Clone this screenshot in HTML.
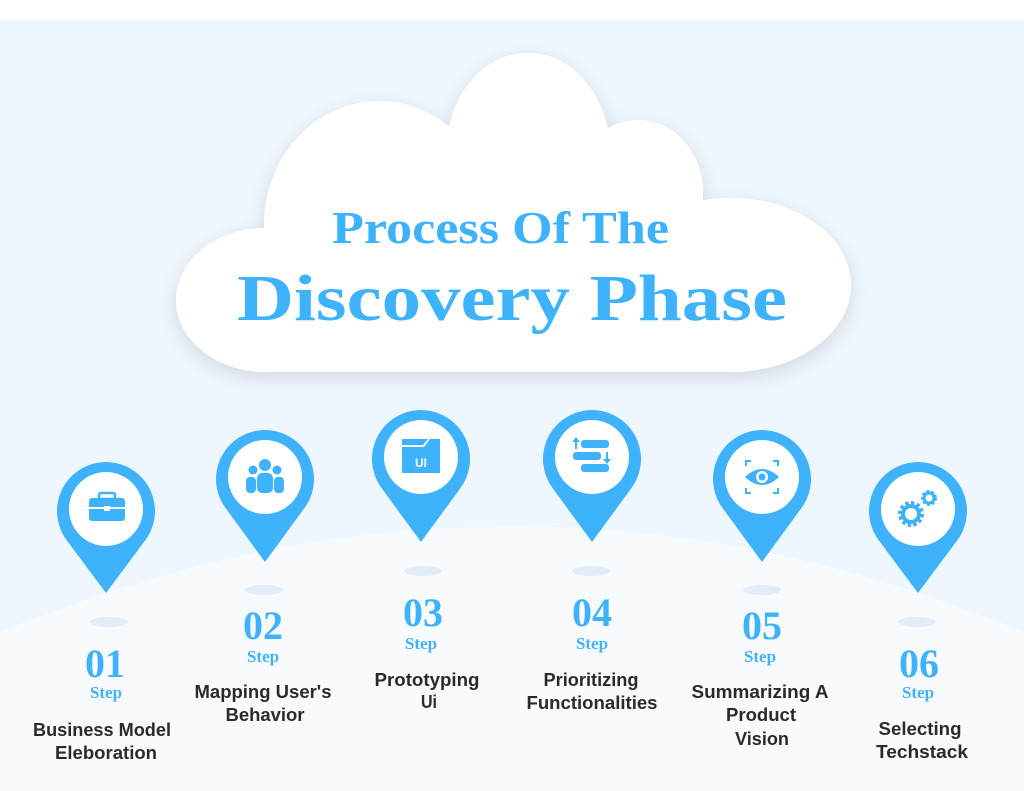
<!DOCTYPE html>
<html><head><meta charset="utf-8"><style>
html,body{margin:0;padding:0;background:#fff}
svg{display:block}
.num{font-family:"Liberation Serif",serif;font-weight:bold;fill:#3fb2fc;font-size:40px}
.step{font-family:"Liberation Serif",serif;font-weight:bold;fill:#3fb2fc;font-size:17px}
.lab{font-family:"Liberation Sans",sans-serif;font-weight:bold;fill:#2a2a2a;font-size:18px}
</style></head><body>
<svg width="1024" height="791" viewBox="0 0 1024 791" xmlns="http://www.w3.org/2000/svg">
<defs>
<filter id="sh" x="-20%" y="-20%" width="140%" height="150%"><feGaussianBlur in="SourceAlpha" stdDeviation="10"/><feOffset dy="6"/><feComponentTransfer><feFuncA type="linear" slope="0.12"/></feComponentTransfer><feMerge><feMergeNode/><feMergeNode in="SourceGraphic"/></feMerge></filter>
</defs>
<rect x="0" y="0" width="1024" height="20" fill="#fff"/>
<rect x="0" y="20" width="1024" height="771" fill="#eef6fe"/>
<path d="M0,632 Q512,420 1024,632 L1024,791 L0,791 Z" fill="#f8fbfe"/>
<!-- cloud -->
<g fill="#fff" filter="url(#sh)">
<ellipse cx="265" cy="300" rx="89" ry="72"/>
<ellipse cx="379" cy="225" rx="115" ry="124"/>
<ellipse cx="528" cy="152" rx="82" ry="99"/>
<ellipse cx="638" cy="192" rx="65" ry="72"/>
<ellipse cx="731" cy="285" rx="120" ry="87"/>
<rect x="250" y="250" width="500" height="122" rx="10"/>
<rect x="360" y="150" width="330" height="150"/>
</g>
<text x="332" y="243" textLength="337" lengthAdjust="spacingAndGlyphs" font-family="Liberation Serif,serif" font-weight="bold" font-size="46" fill="#3fb2fc">Process Of The</text>
<text x="237" y="320" textLength="550" lengthAdjust="spacingAndGlyphs" font-family="Liberation Serif,serif" font-weight="bold" font-size="66" fill="#3fb2fc">Discovery Phase</text>

<!-- shadows -->
<g fill="#e3edf8">
<ellipse cx="109" cy="622" rx="19" ry="5"/>
<ellipse cx="264" cy="590" rx="19" ry="5"/>
<ellipse cx="423" cy="571" rx="19" ry="5"/>
<ellipse cx="591" cy="571" rx="19" ry="5"/>
<ellipse cx="762" cy="590" rx="19" ry="5"/>
<ellipse cx="917" cy="622" rx="19" ry="5"/>
</g>

<!-- pins -->
<g fill="#3fb2fc">
<path d="M66.7,540.3 A49 49 0 1 1 145.3,540.3 L106,593 Z"/>
<path d="M225.7,508.3 A49 49 0 1 1 304.3,508.3 L265,562 Z"/>
<path d="M381.7,488.3 A49 49 0 1 1 460.3,488.3 L421,542 Z"/>
<path d="M552.7,488.3 A49 49 0 1 1 631.3,488.3 L592,542 Z"/>
<path d="M722.7,508.3 A49 49 0 1 1 801.3,508.3 L762,562 Z"/>
<path d="M878.7,540.3 A49 49 0 1 1 957.3,540.3 L918,593 Z"/>
</g>
<g fill="#fff">
<circle cx="106" cy="509" r="37"/>
<circle cx="265" cy="477" r="37"/>
<circle cx="421" cy="457" r="37"/>
<circle cx="592" cy="457" r="37"/>
<circle cx="762" cy="477" r="37"/>
<circle cx="918" cy="509" r="37"/>
</g>
<!-- icons -->
<g fill="#3fb2fc">
<rect x="89" y="498" width="36" height="23" rx="3"/>
<rect x="99" y="493" width="16" height="6" rx="2" fill="none" stroke="#3fb2fc" stroke-width="2.5"/>
<rect x="89" y="507" width="36" height="2" fill="#fff"/>
<rect x="104" y="506" width="6" height="5" fill="#fff"/>
<circle cx="265" cy="465" r="6"/><circle cx="253" cy="470" r="4.5"/><circle cx="277" cy="470" r="4.5"/>
<rect x="257" y="473" width="16" height="20" rx="5"/>
<rect x="246" y="477" width="10" height="16" rx="4"/>
<rect x="274" y="477" width="10" height="16" rx="4"/>
<path d="M402,439 L428,439 L423,445 L402,445 Z"/>
<path d="M430,439 L440,439 L440,473 L402,473 L402,447 L424,447 Z"/>
<text x="421" y="467" text-anchor="middle" font-family="Liberation Sans,sans-serif" font-weight="bold" font-size="12" fill="#fff">UI</text>
<rect x="581" y="440" width="28" height="8" rx="3"/>
<rect x="573" y="452" width="28" height="8" rx="3"/>
<rect x="581" y="464" width="28" height="8" rx="3"/>
<rect x="575" y="440" width="2" height="9"/><path d="M572,442 L576,437 L580,442 Z"/>
<rect x="606" y="452" width="2" height="9"/><path d="M603,459 L607,464 L611,459 Z"/>
<path d="M745,477 Q762,461 779,477 Q762,493 745,477 Z"/>
<circle cx="762" cy="477" r="6" fill="#fff"/><circle cx="762" cy="477" r="3.5"/>
<path d="M746,466 v-5 h5 M773,461 h5 v5 M778,488 v5 h-5 M751,493 h-5 v-5" fill="none" stroke="#3fb2fc" stroke-width="2"/>
<circle cx="911" cy="514" r="10" fill="none" stroke="#3fb2fc" stroke-width="6" stroke-dasharray="3 2.2"/>
<circle cx="911" cy="514" r="8" fill="none" stroke="#3fb2fc" stroke-width="4"/>
<circle cx="929" cy="498" r="6" fill="none" stroke="#3fb2fc" stroke-width="4" stroke-dasharray="2.5 1.8"/>
<circle cx="929" cy="498" r="5" fill="none" stroke="#3fb2fc" stroke-width="3"/>
</g>

<g text-anchor="middle">
<text class="num" x="105" y="677">01</text>
<text class="step" x="106" y="698">Step</text>
<text class="lab" x="102" y="736" textLength="138" lengthAdjust="spacingAndGlyphs">Business Model</text>
<text class="lab" x="106" y="759" textLength="102" lengthAdjust="spacingAndGlyphs">Eleboration</text>

<text class="num" x="263" y="639">02</text>
<text class="step" x="263" y="662">Step</text>
<text class="lab" x="263" y="698" textLength="137" lengthAdjust="spacingAndGlyphs">Mapping User's</text>
<text class="lab" x="265" y="721" textLength="79" lengthAdjust="spacingAndGlyphs">Behavior</text>

<text class="num" x="423" y="626">03</text>
<text class="step" x="421" y="649">Step</text>
<text class="lab" x="427" y="686" textLength="105" lengthAdjust="spacingAndGlyphs">Prototyping</text>
<text class="lab" x="429" y="708" textLength="16" lengthAdjust="spacingAndGlyphs">Ui</text>

<text class="num" x="592" y="626">04</text>
<text class="step" x="592" y="649">Step</text>
<text class="lab" x="591" y="686" textLength="95" lengthAdjust="spacingAndGlyphs">Prioritizing</text>
<text class="lab" x="592" y="709" textLength="131" lengthAdjust="spacingAndGlyphs">Functionalities</text>

<text class="num" x="762" y="639">05</text>
<text class="step" x="760" y="662">Step</text>
<text class="lab" x="760" y="698" textLength="137" lengthAdjust="spacingAndGlyphs">Summarizing A</text>
<text class="lab" x="761" y="721" textLength="70" lengthAdjust="spacingAndGlyphs">Product</text>
<text class="lab" x="762" y="745" textLength="54" lengthAdjust="spacingAndGlyphs">Vision</text>

<text class="num" x="919" y="677">06</text>
<text class="step" x="918" y="698">Step</text>
<text class="lab" x="920" y="735" textLength="83" lengthAdjust="spacingAndGlyphs">Selecting</text>
<text class="lab" x="922" y="758" textLength="92" lengthAdjust="spacingAndGlyphs">Techstack</text>
</g>
</svg>
</body></html>
